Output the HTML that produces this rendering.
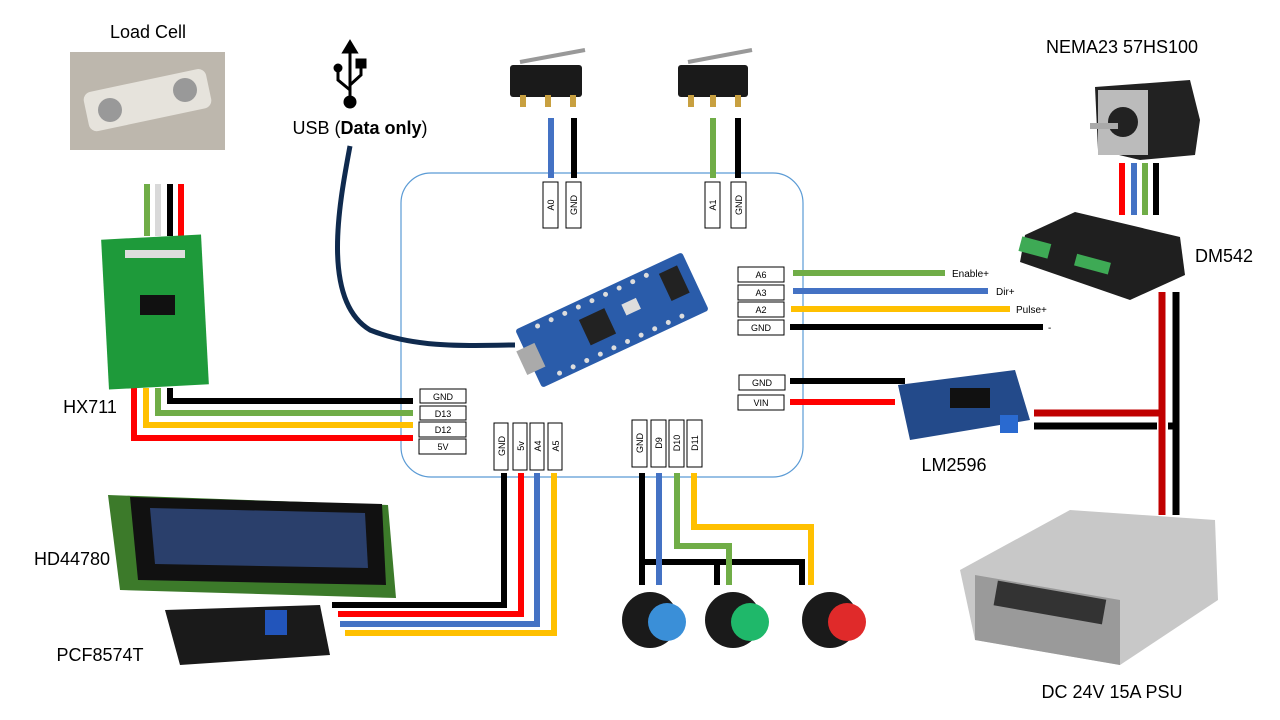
<!DOCTYPE html>
<html><head><meta charset="utf-8"><style>
body{margin:0;background:#fff}
svg{display:block;font-family:"Liberation Sans",sans-serif}
</style></head><body>
<svg width="1280" height="720" viewBox="0 0 1280 720" xmlns="http://www.w3.org/2000/svg">
<rect width="1280" height="720" fill="#fff"/>
<!-- main frame -->
<rect x="401" y="173" width="402" height="304" rx="30" fill="none" stroke="#5b9bd5" stroke-width="1.2"/>

<g stroke-width="6" fill="none" stroke-linejoin="miter">
<!-- top switch wires -->
<line x1="551" y1="118" x2="551" y2="178" stroke="#4472c4"/>
<line x1="574" y1="118" x2="574" y2="178" stroke="#000"/>
<line x1="713" y1="118" x2="713" y2="178" stroke="#70ad47"/>
<line x1="738" y1="118" x2="738" y2="178" stroke="#000"/>
<!-- right wires -->
<line x1="793" y1="273" x2="945" y2="273" stroke="#70ad47"/>
<line x1="793" y1="291" x2="988" y2="291" stroke="#4472c4"/>
<line x1="791" y1="309" x2="1010" y2="309" stroke="#ffc000"/>
<line x1="790" y1="327" x2="1043" y2="327" stroke="#000"/>
<line x1="790" y1="381" x2="905" y2="381" stroke="#000"/>
<line x1="790" y1="402" x2="895" y2="402" stroke="#f00"/>
<!-- left HX711 wires -->
<polyline points="170,388 170,401 413,401" stroke="#000"/>
<polyline points="158,388 158,413 413,413" stroke="#70ad47"/>
<polyline points="146,388 146,425 413,425" stroke="#ffc000"/>
<polyline points="134,388 134,438 413,438" stroke="#f00"/>
<!-- load cell wires -->
<line x1="147" y1="184" x2="147" y2="236" stroke="#70ad47"/>
<line x1="158" y1="184" x2="158" y2="236" stroke="#d9d9d9"/>
<line x1="170" y1="184" x2="170" y2="236" stroke="#000"/>
<line x1="181" y1="184" x2="181" y2="236" stroke="#f00"/>
<!-- bottom LCD wires -->
<polyline points="504,473 504,605 332,605" stroke="#000"/>
<polyline points="521,473 521,614 338,614" stroke="#f00"/>
<polyline points="537,473 537,624 340,624" stroke="#4472c4"/>
<polyline points="554,473 554,633 345,633" stroke="#ffc000"/>
<!-- buttons wires -->
<polyline points="642,473 642,585" stroke="#000"/>
<polyline points="642,562 802,562 802,585" stroke="#000"/>
<line x1="717" y1="562" x2="717" y2="585" stroke="#000"/>
<line x1="659" y1="473" x2="659" y2="585" stroke="#4472c4"/>
<polyline points="677,473 677,546 729,546 729,585" stroke="#70ad47"/>
<polyline points="694,473 694,527 811,527 811,585" stroke="#ffc000"/>
<!-- motor wires -->
<line x1="1122" y1="163" x2="1122" y2="215" stroke="#f00"/>
<line x1="1134" y1="163" x2="1134" y2="215" stroke="#4472c4"/>
<line x1="1145" y1="163" x2="1145" y2="215" stroke="#70ad47"/>
<line x1="1156" y1="163" x2="1156" y2="215" stroke="#000"/>
<!-- power -->
<line x1="1162" y1="292" x2="1162" y2="515" stroke="#c00000" stroke-width="7"/>
<line x1="1176" y1="292" x2="1176" y2="515" stroke="#000" stroke-width="7"/>
<line x1="1034" y1="413" x2="1162" y2="413" stroke="#c00000" stroke-width="7"/>
<line x1="1034" y1="426" x2="1157" y2="426" stroke="#000" stroke-width="7"/>
<line x1="1168" y1="426" x2="1176" y2="426" stroke="#000" stroke-width="7"/>
</g>
<!-- USB cable -->
<path d="M350,146 C340,200 320,300 370,330 C420,350 480,345 515,345" stroke="#0f2a4e" stroke-width="5" fill="none"/>

<!-- pin label boxes -->
<g fill="#fff" stroke="#000" stroke-width="1">
<rect x="543" y="182" width="15" height="46"/><rect x="566" y="182" width="15" height="46"/>
<rect x="705" y="182" width="15" height="46"/><rect x="731" y="182" width="15" height="46"/>
<rect x="738" y="267" width="46" height="15"/><rect x="738" y="285" width="46" height="15"/>
<rect x="738" y="302" width="46" height="15"/><rect x="738" y="320" width="46" height="15"/>
<rect x="739" y="375" width="46" height="15"/><rect x="738" y="395" width="46" height="15"/>
<rect x="420" y="389" width="46" height="14"/><rect x="420" y="406" width="46" height="14"/>
<rect x="419" y="422" width="47" height="15"/><rect x="419" y="439" width="47" height="15"/>
<rect x="494" y="423" width="14" height="47"/><rect x="513" y="423" width="14" height="47"/>
<rect x="530" y="423" width="14" height="47"/><rect x="548" y="423" width="14" height="47"/>
<rect x="632" y="420" width="15" height="47"/><rect x="651" y="420" width="15" height="47"/>
<rect x="669" y="420" width="15" height="47"/><rect x="687" y="420" width="15" height="47"/>
</g>
<g font-size="9" text-anchor="middle" fill="#000">
<text x="761" y="278">A6</text><text x="761" y="296">A3</text><text x="761" y="313">A2</text><text x="761" y="331">GND</text>
<text x="762" y="386">GND</text><text x="761" y="406">VIN</text>
<text x="443" y="400">GND</text><text x="443" y="417">D13</text><text x="443" y="433">D12</text><text x="443" y="450">5V</text>
<text transform="translate(554,205) rotate(-90)">A0</text>
<text transform="translate(577,205) rotate(-90)">GND</text>
<text transform="translate(716,205) rotate(-90)">A1</text>
<text transform="translate(742,205) rotate(-90)">GND</text>
<text transform="translate(505,446) rotate(-90)">GND</text>
<text transform="translate(524,446) rotate(-90)">5v</text>
<text transform="translate(541,446) rotate(-90)">A4</text>
<text transform="translate(559,446) rotate(-90)">A5</text>
<text transform="translate(643,443) rotate(-90)">GND</text>
<text transform="translate(662,443) rotate(-90)">D9</text>
<text transform="translate(680,443) rotate(-90)">D10</text>
<text transform="translate(698,443) rotate(-90)">D11</text>
</g>
<g font-size="10" fill="#000">
<text x="952" y="277">Enable+</text><text x="996" y="295">Dir+</text>
<text x="1016" y="313">Pulse+</text><text x="1048" y="331">-</text>
</g>

<!-- Arduino nano -->
<g transform="translate(612,320) rotate(-25)">
<rect x="-92" y="-32" width="184" height="64" rx="3" fill="#2a5caa"/>
<rect x="-100" y="-12" width="20" height="26" fill="#aaa"/>
<rect x="-30" y="-14" width="28" height="28" fill="#222"/>
<rect x="15" y="-10" width="16" height="12" fill="#ddd"/>
<rect x="62" y="-22" width="20" height="30" fill="#222"/>
<g fill="#ddd"><circle cx="-70" cy="-26" r="2.5"/><circle cx="-55" cy="-26" r="2.5"/><circle cx="-40" cy="-26" r="2.5"/><circle cx="-25" cy="-26" r="2.5"/><circle cx="-10" cy="-26" r="2.5"/><circle cx="5" cy="-26" r="2.5"/><circle cx="20" cy="-26" r="2.5"/><circle cx="35" cy="-26" r="2.5"/><circle cx="50" cy="-26" r="2.5"/>
<circle cx="-70" cy="26" r="2.5"/><circle cx="-55" cy="26" r="2.5"/><circle cx="-40" cy="26" r="2.5"/><circle cx="-25" cy="26" r="2.5"/><circle cx="-10" cy="26" r="2.5"/><circle cx="5" cy="26" r="2.5"/><circle cx="20" cy="26" r="2.5"/><circle cx="35" cy="26" r="2.5"/><circle cx="50" cy="26" r="2.5"/><circle cx="65" cy="26" r="2.5"/></g>
</g>

<!-- USB icon -->
<g stroke="#000" stroke-width="3" fill="#000">
<line x1="350" y1="50" x2="350" y2="102"/>
<polygon points="344,52 350,42 356,52"/>
<circle cx="350" cy="102" r="5"/>
<polyline points="350,90 338,80 338,70" fill="none"/><circle cx="338" cy="68" r="3"/>
<polyline points="350,85 361,75 361,66" fill="none"/><rect x="357" y="60" width="8" height="7"/>
</g>
<text x="360" y="134" font-size="18" text-anchor="middle">USB (<tspan font-weight="bold">Data only</tspan>)</text>

<!-- microswitches -->
<g>
<rect x="510" y="65" width="72" height="32" rx="3" fill="#1a1a1a"/>
<line x1="520" y1="62" x2="585" y2="50" stroke="#999" stroke-width="4"/>
<rect x="520" y="95" width="6" height="12" fill="#c8a040"/><rect x="545" y="95" width="6" height="12" fill="#c8a040"/><rect x="570" y="95" width="6" height="12" fill="#c8a040"/>
<rect x="678" y="65" width="70" height="32" rx="3" fill="#1a1a1a"/>
<line x1="688" y1="62" x2="752" y2="50" stroke="#999" stroke-width="4"/>
<rect x="688" y="95" width="6" height="12" fill="#c8a040"/><rect x="710" y="95" width="6" height="12" fill="#c8a040"/><rect x="735" y="95" width="6" height="12" fill="#c8a040"/>
</g>

<!-- load cell -->
<text x="148" y="38" font-size="18" text-anchor="middle">Load Cell</text>
<rect x="70" y="52" width="155" height="98" fill="#bdb7ad"/>
<rect x="85" y="80" width="125" height="40" rx="8" fill="#e6e3dc" transform="rotate(-12 148 100)"/>
<circle cx="110" cy="110" r="12" fill="#999"/><circle cx="185" cy="90" r="12" fill="#999"/>

<!-- HX711 -->
<rect x="105" y="237" width="100" height="150" fill="#1e9a3a" transform="rotate(-3 155 312)"/>
<rect x="140" y="295" width="35" height="20" fill="#111"/>
<rect x="125" y="250" width="60" height="8" fill="#ddd"/>
<text x="90" y="413" font-size="18" text-anchor="middle">HX711</text>

<!-- LCD -->
<polygon points="108,495 388,505 396,598 120,590" fill="#3c7a2a"/>
<polygon points="130,497 382,504 386,585 138,580" fill="#111"/>
<polygon points="150,508 365,513 368,568 155,564" fill="#2a3f6b"/>
<text x="72" y="565" font-size="18" text-anchor="middle">HD44780</text>
<!-- PCF8574T -->
<polygon points="165,610 320,605 330,655 180,665" fill="#1a1a1a"/>
<rect x="265" y="610" width="22" height="25" fill="#2255bb"/>
<text x="100" y="661" font-size="18" text-anchor="middle">PCF8574T</text>

<!-- buttons -->
<g>
<circle cx="650" cy="620" r="28" fill="#1a1a1a"/><circle cx="667" cy="622" r="19" fill="#3a8fd8"/>
<circle cx="733" cy="620" r="28" fill="#1a1a1a"/><circle cx="750" cy="622" r="19" fill="#1fb86a"/>
<circle cx="830" cy="620" r="28" fill="#1a1a1a"/><circle cx="847" cy="622" r="19" fill="#e02a2a"/>
</g>

<!-- motor -->
<text x="1122" y="53" font-size="18" text-anchor="middle">NEMA23 57HS100</text>
<polygon points="1095,87 1190,80 1200,120 1195,155 1140,160 1098,150" fill="#222"/>
<rect x="1098" y="90" width="50" height="65" fill="#bbb"/>
<circle cx="1123" cy="122" r="15" fill="#222"/>
<rect x="1090" y="123" width="28" height="6" fill="#aaa"/>
<!-- DM542 -->
<polygon points="1025,235 1075,212 1180,237 1185,275 1130,300 1020,262" fill="#1f1f1f"/>
<rect x="1020" y="240" width="30" height="15" fill="#3eaa55" transform="rotate(15 1035 247)"/>
<rect x="1075" y="258" width="35" height="12" fill="#3eaa55" transform="rotate(15 1092 264)"/>
<text x="1195" y="262" font-size="18">DM542</text>
<!-- LM2596 -->
<polygon points="898,385 1015,370 1030,420 910,440" fill="#234a8a"/>
<rect x="950" y="388" width="40" height="20" fill="#111"/>
<rect x="1000" y="415" width="18" height="18" fill="#2a6ad0"/>
<text x="954" y="471" font-size="18" text-anchor="middle">LM2596</text>
<!-- PSU -->
<polygon points="960,570 1070,510 1215,520 1218,600 1120,665 975,640" fill="#c8c8c8"/>
<polygon points="975,575 1120,600 1120,665 975,640" fill="#9a9a9a"/>
<rect x="995" y="590" width="110" height="25" fill="#333" transform="rotate(10 1050 602)"/>
<text x="1112" y="698" font-size="18" text-anchor="middle">DC 24V 15A PSU</text>
</svg>
</body></html>
